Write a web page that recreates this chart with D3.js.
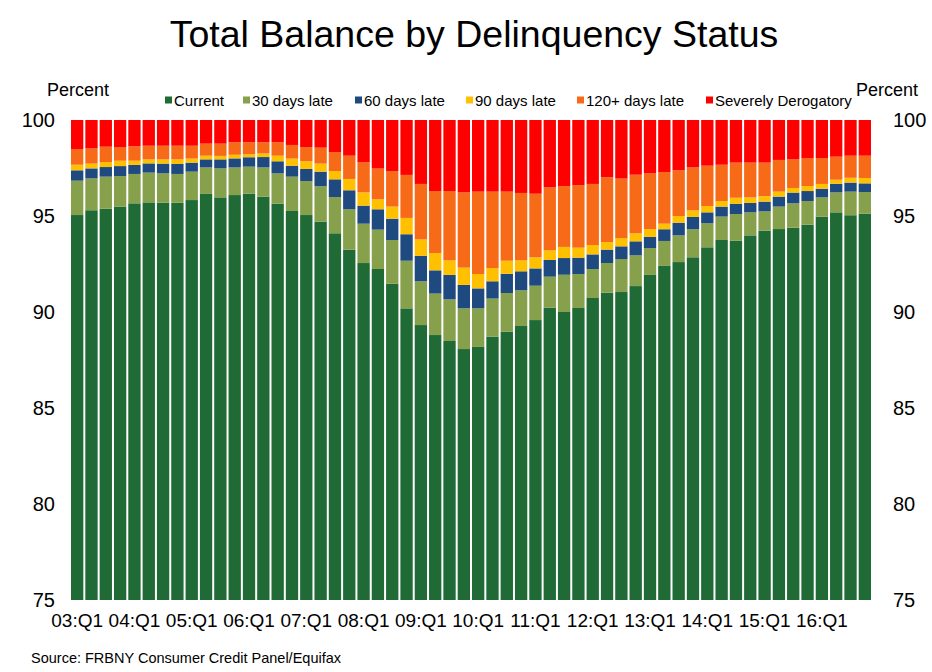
<!DOCTYPE html>
<html>
<head>
<meta charset="utf-8">
<script src="https://cdn.jsdelivr.net/npm/d3@7"></script>
<style>
  body { margin: 0; background: #fff; }
  svg { font-family: "Liberation Sans", Arial, sans-serif; }
</style>
</head>
<body>
<svg id="chart" width="932" height="672"></svg>
<script>
(function() {
  // quarters 03:Q1 .. 16:Q4
  var years = d3.range(3, 17);
  var quarters = [];
  years.forEach(function(y) {
    for (var q = 1; q <= 4; q++) quarters.push((y < 10 ? "0" : "") + y + ":Q" + q);
  });

  var seriesNames = ["Current", "30 days late", "60 days late", "90 days late", "120+ days late", "Severely Derogatory"];
  var seriesColors = ["#1f6a35", "#86a04c", "#1f4a80", "#ffc000", "#f76a18", "#ff0000"];

  // percent of balance
  var current = [95.05, 95.30, 95.38, 95.49, 95.66, 95.71, 95.69, 95.69, 95.83, 96.15, 95.97, 96.09, 96.16, 96.01,
    95.64, 95.26, 95.05, 94.70, 94.10, 93.25, 92.55, 92.24, 91.47, 90.19, 89.32, 88.80, 88.49, 88.07,
    88.18, 88.72, 88.98, 89.27, 89.58, 90.22, 90.00, 90.21, 90.73, 91.01, 91.04, 91.35, 91.93, 92.40,
    92.60, 92.85, 93.37, 93.75, 93.71, 93.99, 94.24, 94.32, 94.39, 94.55, 94.97, 95.19, 95.04, 95.12];
  var late30 = [1.79, 1.66, 1.67, 1.59, 1.53, 1.55, 1.53, 1.50, 1.48, 1.38, 1.51, 1.44, 1.41, 1.52,
    1.58, 1.79, 1.77, 1.85, 1.89, 2.10, 2.05, 2.05, 2.28, 2.48, 2.28, 2.16, 2.17, 2.12,
    2.01, 1.98, 2.01, 1.86, 1.79, 1.62, 1.94, 1.77, 1.51, 1.54, 1.72, 1.60, 1.40, 1.30,
    1.39, 1.46, 1.25, 1.22, 1.39, 1.20, 1.00, 1.17, 1.27, 1.23, 1.00, 1.04, 1.23, 1.13];
  var late60 = [0.54, 0.52, 0.50, 0.52, 0.47, 0.48, 0.51, 0.52, 0.47, 0.42, 0.47, 0.47, 0.49, 0.54,
    0.63, 0.57, 0.63, 0.76, 0.92, 0.99, 0.94, 1.06, 1.11, 1.38, 1.32, 1.21, 1.27, 1.22,
    1.04, 0.90, 1.00, 0.99, 0.90, 0.87, 0.87, 0.85, 0.76, 0.70, 0.66, 0.73, 0.58, 0.61,
    0.66, 0.64, 0.57, 0.52, 0.54, 0.49, 0.51, 0.52, 0.56, 0.52, 0.45, 0.45, 0.47, 0.45];
  var late90 = [0.29, 0.25, 0.26, 0.28, 0.22, 0.21, 0.22, 0.24, 0.21, 0.19, 0.18, 0.19, 0.15, 0.19,
    0.29, 0.37, 0.40, 0.42, 0.43, 0.59, 0.69, 0.52, 0.63, 0.85, 0.86, 0.90, 0.76, 0.90,
    0.75, 0.69, 0.68, 0.57, 0.58, 0.50, 0.58, 0.52, 0.49, 0.39, 0.43, 0.42, 0.41, 0.29,
    0.35, 0.34, 0.33, 0.29, 0.31, 0.29, 0.28, 0.26, 0.24, 0.26, 0.25, 0.21, 0.25, 0.28];
  var late120 = [0.82, 0.79, 0.80, 0.71, 0.75, 0.71, 0.71, 0.71, 0.67, 0.63, 0.64, 0.65, 0.63, 0.58,
    0.70, 0.71, 0.74, 0.83, 0.99, 1.21, 1.58, 1.60, 1.85, 2.24, 2.89, 3.23, 3.61, 3.92,
    4.29, 3.98, 3.60, 3.51, 3.31, 3.28, 3.17, 3.26, 3.18, 3.38, 3.10, 3.05, 2.90, 2.69,
    2.38, 2.24, 2.10, 1.89, 1.83, 1.81, 1.75, 1.65, 1.49, 1.46, 1.35, 1.20, 1.15, 1.16];
  var severe = [1.51, 1.48, 1.39, 1.41, 1.37, 1.34, 1.34, 1.34, 1.34, 1.23, 1.23, 1.16, 1.16, 1.16,
    1.16, 1.30, 1.41, 1.44, 1.67, 1.86, 2.19, 2.53, 2.66, 2.86, 3.33, 3.70, 3.70, 3.77,
    3.73, 3.73, 3.73, 3.80, 3.84, 3.51, 3.44, 3.39, 3.33, 2.98, 3.05, 2.85, 2.78, 2.71,
    2.62, 2.47, 2.38, 2.33, 2.22, 2.22, 2.22, 2.08, 2.05, 1.98, 1.98, 1.91, 1.86, 1.86];

  var yTicks = [75, 80, 85, 90, 95, 100];
  var xLabels = quarters.filter(function(d) { return /Q1$/.test(d); });

  var allSeries = [current, late30, late60, late90, late120, severe];
  var rows = quarters.map(function(q, i) {
    var r = { q: q };
    seriesNames.forEach(function(s, k) { r[s] = allSeries[k][i]; });
    return r;
  });

  var svg = d3.select("#chart");
  var left = 70, right = 872, top = 120, bottom = 600;

  var x = d3.scaleBand().domain(quarters).range([left, right]).paddingInner(0.14).paddingOuter(0.07);
  var y = d3.scaleLinear().domain([75, 100]).range([bottom, top]);
  var color = d3.scaleOrdinal().domain(seriesNames).range(seriesColors);

  var stacked = d3.stack().keys(seriesNames)(rows);

  svg.append("defs").append("clipPath").attr("id", "plot")
    .append("rect").attr("x", left).attr("y", top).attr("width", right - left).attr("height", bottom - top);

  // bars
  svg.append("g").attr("clip-path", "url(#plot)")
    .selectAll("g")
    .data(stacked)
    .join("g")
      .attr("fill", function(d) { return color(d.key); })
    .selectAll("rect")
    .data(function(d) { return d; })
    .join("rect")
      .attr("x", function(d) { return x(d.data.q); })
      .attr("width", x.bandwidth())
      .attr("y", function(d) { return y(Math.min(100, d[1])); })
      .attr("height", function(d) { return y(d[0]) - y(Math.min(100, d[1])); });

  // y axes on both sides
  var yl = svg.append("g").attr("transform", "translate(" + (left - 15) + ",0)")
    .call(d3.axisLeft(y).tickValues(yTicks).tickSize(0).tickPadding(0));
  var yr = svg.append("g").attr("transform", "translate(" + (right + 21) + ",0)")
    .call(d3.axisRight(y).tickValues(yTicks).tickSize(0).tickPadding(0));
  [yl, yr].forEach(function(a) {
    a.select(".domain").remove();
    a.selectAll("text").attr("font-size", 20).attr("fill", "#000").attr("font-family", null);
  });

  // x axis labels every 4 quarters
  var xa = svg.append("g").attr("transform", "translate(0," + bottom + ")")
    .call(d3.axisBottom(x).tickValues(xLabels).tickSize(0).tickPadding(14));
  xa.select(".domain").remove();
  xa.selectAll("text").attr("font-size", 19).attr("fill", "#000").attr("font-family", null);

  // title and unit labels
  svg.append("text").attr("x", 474).attr("y", 47).attr("text-anchor", "middle")
    .attr("font-size", 37.5).text("Total Balance by Delinquency Status");
  svg.append("text").attr("x", 47).attr("y", 96).attr("font-size", 18).text("Percent");
  svg.append("text").attr("x", 856).attr("y", 96).attr("font-size", 18).text("Percent");

  // legend
  var legendX = [165, 243, 355, 466, 577, 706];
  var lg = svg.append("g").selectAll("g")
    .data(seriesNames)
    .join("g")
      .attr("transform", function(d, i) { return "translate(" + legendX[i] + ",100)"; });
  lg.append("rect").attr("x", 0).attr("y", -3.5).attr("width", 7).attr("height", 7)
    .attr("fill", function(d) { return color(d); });
  lg.append("text").attr("x", 9).attr("y", 5.5).attr("font-size", 15).text(function(d) { return d; });

  svg.append("text").attr("x", 31).attr("y", 663).attr("font-size", 14.5)
    .text("Source: FRBNY Consumer Credit Panel/Equifax");
})();
</script>
</body>
</html>
